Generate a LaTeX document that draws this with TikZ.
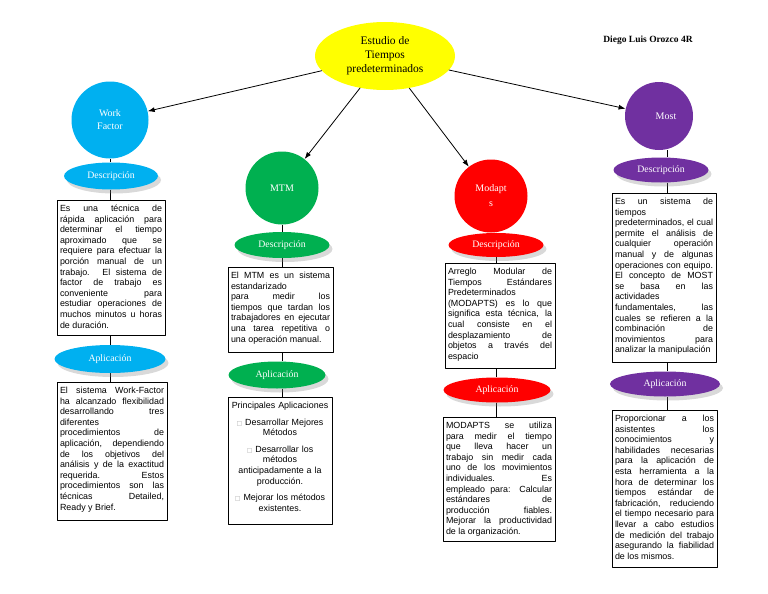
\documentclass[tikz,border=0pt]{standalone}
\usepackage{fontspec}
\setmainfont{Liberation Serif}
\newfontfamily\boxfont{Liberation Sans}
\newfontfamily\symfont{DejaVu Sans}
\usetikzlibrary{shapes.geometric,shadows,backgrounds,arrows.meta}
\definecolor{wfblue}{RGB}{0,176,240}
\definecolor{mtmgreen}{RGB}{0,176,80}
\definecolor{modred}{RGB}{255,0,0}
\definecolor{mostpurple}{RGB}{112,48,160}
\definecolor{titleyellow}{RGB}{255,255,0}
\tolerance=10000 \hbadness=10000 \hfuzz=2pt
\hyphenpenalty=10000 \exhyphenpenalty=10000
\newcommand{\sqbullet}{{\symfont\color{gray!70}\fontsize{6}{6}\selectfont □}}
\tikzset{
  topic/.style={circle, text=white, align=center, inner sep=0pt,
    font=\fontsize{10}{13}\selectfont},
  tag/.style={ellipse, text=white, inner sep=0pt, font=\fontsize{9.8}{11}\selectfont,
    drop shadow={shadow xshift=3pt,shadow yshift=-4pt,opacity=0.3}},
  infobox/.style={draw, fill=white, line width=0.8pt, anchor=north,
    inner xsep=3pt, inner ysep=4pt, align=justify, text height=7pt,
    font=\boxfont\fontsize{8.9}{10.6}\selectfont},
  link/.style={line width=0.8pt},
  branch/.style={-{Latex[length=7pt,width=5pt]}, line width=0.8pt}
}
\begin{document}
\begin{tikzpicture}[line cap=round,line join=round,x=1pt,y=-1pt]
    \useasboundingbox (0,0) rectangle (768,594);

    % centro
    \node [ellipse, fill=titleyellow, minimum width=140, minimum height=68, inner sep=0pt,
        align=center, font=\fontsize{11.5}{14}\selectfont] (estudio) at (385,56)
        {Estudio de\\Tiempos\\predeterminados};
    \node [font=\bfseries\fontsize{9.5}{11}\selectfont] (autor) at (648,40) {Diego Luis Orozco 4R};

    % Work Factor
    \node [topic, fill=wfblue, minimum size=77] (wf) at (110,120) {Work\\Factor};
    \coordinate (wf-x) at (110,0);
    \node [tag, fill=wfblue, minimum width=94, minimum height=27] (wf-d) at (111,176) {Descripción};
    \node [infobox, text width=102, text depth=120] (wf-dbox) at (111,200)
        {Es una técnica de\linebreak rápida aplicación para\linebreak determinar el tiempo\linebreak
        aproximado que se\linebreak requiere para efectuar la\linebreak porción manual de un\linebreak
        trabajo. El sistema de\linebreak factor de trabajo es\linebreak conveniente para\linebreak
        estudiar operaciones de\linebreak muchos minutos u horas\linebreak de duración.};
    \node [tag, fill=wfblue, minimum width=111, minimum height=28] (wf-a) at (110,359) {Aplicación};
    \node [infobox, text width=104, text depth=123] (wf-abox) at (112,382)
        {El sistema Work-Factor\linebreak ha alcanzado flexibilidad\linebreak desarrollando tres\linebreak
        diferentes\newline procedimientos de\linebreak aplicación, dependiendo\linebreak
        de los objetivos del\linebreak análisis y de la exactitud\linebreak requerida. Estos\linebreak
        procedimientos son las\linebreak técnicas Detailed,\linebreak Ready y Brief.};

    % MTM
    \node [topic, fill=mtmgreen, minimum size=73] (mtm) at (282,188) {MTM};
    \coordinate (mtm-x) at (282,0);
    \node [tag, fill=mtmgreen, minimum width=95, minimum height=26] (mtm-d) at (282,245) {Descripción};
    \node [infobox, text width=99, text depth=70] (mtm-dbox) at (280.5,267)
        {El MTM es un sistema\linebreak estandarizado\newline para medir los\linebreak
        tiempos que tardan los\linebreak trabajadores en ejecutar\linebreak una tarea repetitiva o\linebreak
        una operación manual.};
    \node [tag, fill=mtmgreen, minimum width=97, minimum height=27] (mtm-a) at (277,375) {Aplicación};
    \node [infobox, align=center, text width=98, text depth=112] (mtm-abox) at (280,397)
        {Principales Aplicaciones\\[6pt]
        \sqbullet\ Desarrollar Mejores\\ Métodos\\[6pt]
        \sqbullet\ Desarrollar los\\ métodos\\ anticipadamente a la\\ producción.\\[6pt]
        \sqbullet\ Mejorar los métodos\\ existentes.};

    % Modapts
    \node [topic, fill=modred, minimum size=73] (mod) at (491,196) {Modapt\\[2pt]s};
    \coordinate (mod-x) at (496,0);
    \node [tag, fill=modred, minimum width=95, minimum height=24] (mod-d) at (496,245) {Descripción};
    \node [infobox, text width=104, text depth=90] (mod-dbox) at (500,263)
        {Arreglo Modular de\linebreak Tiempos Estándares\linebreak Predeterminados\newline
        (MODAPTS) es lo que\linebreak significa esta técnica, la\linebreak cual consiste en el\linebreak
        desplazamiento de\linebreak objetos a través del\linebreak espacio};
    \node [tag, fill=modred, minimum width=107, minimum height=25] (mod-a) at (497,390) {Aplicación};
    \node [infobox, text width=106, text depth=109] (mod-abox) at (499,417)
        {MODAPTS se utiliza\linebreak para medir el tiempo\linebreak que lleva hacer un\linebreak
        trabajo sin medir cada\linebreak uno de los movimientos\linebreak individuales. Es\linebreak
        empleado para: Calcular\linebreak estándares de\linebreak producción fiables.\linebreak
        Mejorar la productividad\linebreak de la organización.};

    % Most
    \node [topic, fill=mostpurple, minimum size=68] (most) at (659,116) {\hspace*{14pt}Most};
    \coordinate (most-x) at (667,0);
    \node [tag, fill=mostpurple, minimum width=95, minimum height=25] (most-d) at (661,170) {Descripción};
    \node [infobox, text width=98, text depth=154] (most-dbox) at (664,193)
        {Es un sistema de\linebreak tiempos\newline predeterminados, el cual\linebreak
        permite el análisis de\linebreak cualquier operación\linebreak manual y de algunas\linebreak
        operaciones con equipo.\linebreak El concepto de MOST\linebreak se basa en las\linebreak
        actividades\newline fundamentales, las\linebreak cuales se refieren a la\linebreak
        combinación de\linebreak movimientos para\linebreak analizar la manipulación};
    \node [tag, fill=mostpurple, minimum width=110, minimum height=25] (most-a) at (665,384) {Aplicación};
    \node [infobox, text width=99, text depth=142] (most-abox) at (664.5,410)
        {Proporcionar a los\linebreak asistentes los\linebreak conocimientos y\linebreak
        habilidades necesarias\linebreak para la aplicación de\linebreak esta herramienta a la\linebreak
        hora de determinar los\linebreak tiempos estándar de\linebreak fabricación, reduciendo\linebreak
        el tiempo necesario para\linebreak llevar a cabo estudios\linebreak de medición del trabajo\linebreak
        asegurando la fiabilidad\linebreak de los mismos.};

    % flechas
    \draw [branch] (estudio) -- (wf);
    \draw [branch] (estudio) -- (mtm);
    \draw [branch] (estudio) -- (mod);
    \draw [branch] (estudio) -- (most);

    \begin{scope}[on background layer]
    \foreach \c in {wf,mtm,mod,most} {
        \draw [link] (\c.south -| \c-x) -- (\c-d.north -| \c-x);
        \draw [link] (\c-d.south -| \c-x) -- (\c-dbox.north -| \c-x);
        \draw [link] (\c-dbox.south -| \c-x) -- (\c-a.north -| \c-x);
        \draw [link] (\c-a.south -| \c-x) -- (\c-abox.north -| \c-x);
    }
    \end{scope}
\end{tikzpicture}
\end{document}
